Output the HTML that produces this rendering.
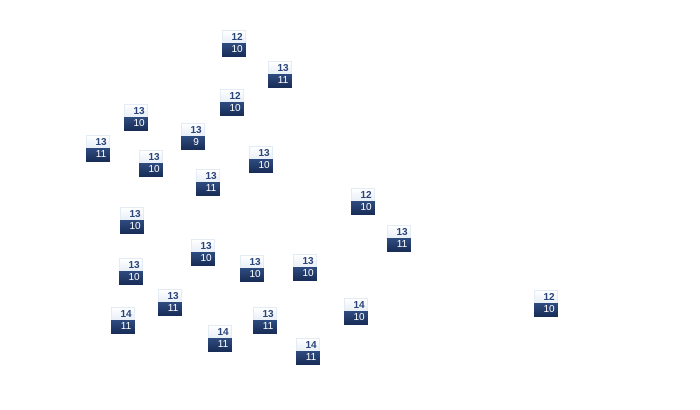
<!DOCTYPE html>
<html><head><meta charset="utf-8"><style>
html,body{margin:0;padding:0;background:#fff;width:700px;height:410px;overflow:hidden;position:relative;font-family:"Liberation Sans",sans-serif}
.n{position:absolute;width:24px;height:27px}
.t{height:12px;border:1px solid #e3ebf5;border-bottom:none;background:linear-gradient(#ffffff,#e8eff8);color:#2a4478;font-weight:bold;font-size:10px;line-height:13px;text-align:center;padding-left:6px;width:16px}
.b{height:14px;background:linear-gradient(#2f4c80,#172c56);color:#fff;font-size:10px;line-height:14px;text-align:center;padding-left:6px;width:18px}
</style></head><body>
<div class="n" style="left:222px;top:30px"><div class="t">12</div><div class="b">10</div></div>
<div class="n" style="left:268px;top:61px"><div class="t">13</div><div class="b">11</div></div>
<div class="n" style="left:220px;top:89px"><div class="t">12</div><div class="b">10</div></div>
<div class="n" style="left:124px;top:104px"><div class="t">13</div><div class="b">10</div></div>
<div class="n" style="left:181px;top:123px"><div class="t">13</div><div class="b">9</div></div>
<div class="n" style="left:86px;top:135px"><div class="t">13</div><div class="b">11</div></div>
<div class="n" style="left:139px;top:150px"><div class="t">13</div><div class="b">10</div></div>
<div class="n" style="left:249px;top:146px"><div class="t">13</div><div class="b">10</div></div>
<div class="n" style="left:196px;top:169px"><div class="t">13</div><div class="b">11</div></div>
<div class="n" style="left:351px;top:188px"><div class="t">12</div><div class="b">10</div></div>
<div class="n" style="left:120px;top:207px"><div class="t">13</div><div class="b">10</div></div>
<div class="n" style="left:387px;top:225px"><div class="t">13</div><div class="b">11</div></div>
<div class="n" style="left:191px;top:239px"><div class="t">13</div><div class="b">10</div></div>
<div class="n" style="left:240px;top:255px"><div class="t">13</div><div class="b">10</div></div>
<div class="n" style="left:293px;top:254px"><div class="t">13</div><div class="b">10</div></div>
<div class="n" style="left:119px;top:258px"><div class="t">13</div><div class="b">10</div></div>
<div class="n" style="left:158px;top:289px"><div class="t">13</div><div class="b">11</div></div>
<div class="n" style="left:534px;top:290px"><div class="t">12</div><div class="b">10</div></div>
<div class="n" style="left:344px;top:298px"><div class="t">14</div><div class="b">10</div></div>
<div class="n" style="left:111px;top:307px"><div class="t">14</div><div class="b">11</div></div>
<div class="n" style="left:253px;top:307px"><div class="t">13</div><div class="b">11</div></div>
<div class="n" style="left:208px;top:325px"><div class="t">14</div><div class="b">11</div></div>
<div class="n" style="left:296px;top:338px"><div class="t">14</div><div class="b">11</div></div>
</body></html>
